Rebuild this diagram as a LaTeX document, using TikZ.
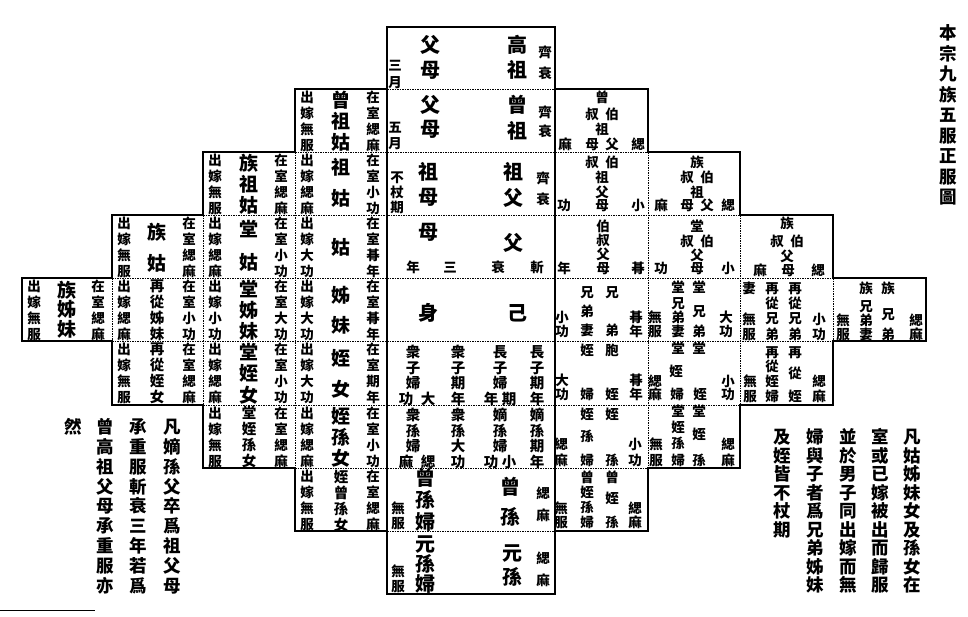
\documentclass[tikz,border=0pt]{standalone}
\usepackage{fontspec}
\newfontfamily\cjk{Noto Sans CJK TC}
\tikzset{
  outl/.style={line width=1.9pt, line join=miter},
  inl/.style={line width=0.75pt, dash pattern=on 1.5pt off 1pt},
  bg/.style={font=\cjk\bfseries\fontsize{20}{20}\selectfont, inner sep=0pt, text height=17.6pt, text depth=2.4pt},
  nm/.style={font=\cjk\bfseries\fontsize{19}{19}\selectfont, inner sep=0pt, text height=16.7pt, text depth=2.3pt},
  md/.style={font=\cjk\bfseries\fontsize{14.5}{14.5}\selectfont, inner sep=0pt, text height=12.8pt, text depth=1.7pt},
  sm/.style={font=\cjk\bfseries\fontsize{13.5}{13.5}\selectfont, inner sep=0pt, text height=11.9pt, text depth=1.6pt},
  nt/.style={font=\cjk\bfseries\fontsize{17.5}{17.5}\selectfont, inner sep=0pt, text height=15.4pt, text depth=2.1pt}
}
% vertical column of characters: x, y of first, spacing, style, list
\newcommand\vcol[5]{\foreach \c [count=\i from 0] in {#5} {\node[#4] at ({#1},{#2+\i*#3}) {\c};}}
\newcommand\ch[3]{\node[sm] at (#1,#2) {#3};}
% left-side cell small columns: L, R, rowtop, right list, left list
\newcommand\lcell[5]{\vcol{#2-14}{#3+8}{16}{sm}{#4}\vcol{#1+12}{#3+8}{16}{sm}{#5}}
\begin{document}
\begin{tikzpicture}[x=1pt,y=-1pt]
\useasboundingbox (0,0) rectangle (968,616);
\fill[white] (0,0) rectangle (968,616);
% inner grid
\draw[inl] (387,89)--(555,89) (295,152)--(648,152) (203,215)--(740,215)
  (112,278)--(833,278) (112,341)--(833,341) (203,405)--(740,405)
  (295,468)--(648,468) (387,531)--(555,531);
\draw[inl] (295,152)--(295,468) (648,152)--(648,468) (203,215)--(203,405)
  (740,215)--(740,405) (112,278)--(112,341) (833,278)--(833,341);
\draw[line width=1.1pt] (387,89)--(387,531) (555,89)--(555,531);
% outline
\draw[outl] (387,27) -- (555,27) -- (555,89) -- (648,89) -- (648,152) -- (740,152)
 -- (740,215) -- (833,215) -- (833,278) -- (926,278) -- (926,341) -- (833,341)
 -- (833,405) -- (740,405) -- (740,468) -- (648,468) -- (648,531) -- (555,531)
 -- (555,594) -- (387,594) -- (387,531) -- (295,531) -- (295,468) -- (203,468)
 -- (203,405) -- (112,405) -- (112,341) -- (22,341) -- (22,278) -- (112,278)
 -- (112,215) -- (203,215) -- (203,152) -- (295,152) -- (295,89) -- (387,89) -- cycle;
\draw[line width=0.8pt] (0,610) -- (95,610);

% ===== central column =====
\vcol{517}{45}{25}{bg}{高,祖}
\vcol{430}{45}{25}{bg}{父,母}
\vcol{545}{52}{21}{sm}{齊,衰}
\vcol{395}{65}{17}{sm}{三,月}
\vcol{517}{105}{26}{bg}{曾,祖}
\vcol{430}{105}{24}{bg}{父,母}
\vcol{545}{112}{19}{sm}{齊,衰}
\vcol{395}{127}{16}{sm}{五,月}
\vcol{513}{172}{26}{bg}{祖,父}
\vcol{428}{172}{25}{bg}{祖,母}
\vcol{543}{178}{21}{sm}{齊,衰}
\vcol{397}{177}{15}{sm}{不,杖,期}
\node[bg] at (513,243) {父};
\node[bg] at (428,232) {母};
\node[sm] at (537,267) {斬};
\node[sm] at (498,267) {衰};
\node[sm] at (450,267) {三};
\node[sm] at (413,267) {年};
\node[bg] at (517,313) {己};
\node[bg] at (428,313) {身};
\vcol{537}{352}{15.5}{md}{長,子,期,年}
\vcol{500}{352}{15.5}{md}{長,子,婦}
\node[md] at (509,398.5) {期}; \node[md] at (491,398.5) {年};
\vcol{458}{352}{15.5}{md}{衆,子,期,年}
\vcol{413}{352}{15.5}{md}{衆,子,婦}
\node[md] at (428,398.5) {大}; \node[md] at (406,398.5) {功};
\vcol{537}{415}{15.5}{md}{嫡,孫,期,年}
\vcol{500}{415}{15.5}{md}{嫡,孫,婦}
\node[md] at (509,461.5) {小}; \node[md] at (491,461.5) {功};
\vcol{458}{415}{15.5}{md}{衆,孫,大,功}
\vcol{413}{415}{15.5}{md}{衆,孫,婦}
\node[md] at (428,461.5) {緦}; \node[md] at (406,461.5) {麻};
\vcol{510}{487}{30}{bg}{曾,孫}
\vcol{425}{478}{22}{bg}{曾,孫,婦}
\vcol{543}{493}{22}{sm}{緦,麻}
\vcol{398}{508}{15}{sm}{無,服}
\vcol{512}{553}{24}{bg}{元,孫}
\vcol{425}{544}{20}{bg}{元,孫,婦}
\vcol{543}{558}{22}{sm}{緦,麻}
\vcol{398}{571}{15}{sm}{無,服}

% ===== left side (female) =====
\lcell{295}{387}{89}{在,室,緦,麻}{出,嫁,無,服}  \vcol{341}{100}{21}{nm}{曾,祖,姑}
\lcell{295}{387}{152}{在,室,小,功}{出,嫁,緦,麻} \vcol{341}{167}{31}{nm}{祖,姑}
\lcell{295}{387}{215}{在,室,朞,年}{出,嫁,大,功} \node[nm] at (341,247) {姑};
\lcell{295}{387}{278}{在,室,朞,年}{出,嫁,大,功} \vcol{341}{295}{30}{nm}{姊,妹}
\lcell{295}{387}{341}{在,室,期,年}{出,嫁,大,功} \vcol{341}{358}{31}{nm}{姪,女}
\lcell{295}{387}{405}{在,室,小,功}{出,嫁,緦,麻} \vcol{341}{416}{21}{nm}{姪,孫,女}
\lcell{295}{387}{468}{在,室,緦,麻}{出,嫁,無,服} \vcol{341}{477}{16}{md}{姪,曾,孫,女}
\lcell{203}{295}{152}{在,室,緦,麻}{出,嫁,無,服} \vcol{249}{163}{21}{nm}{族,祖,姑}
\lcell{203}{295}{215}{在,室,小,功}{出,嫁,緦,麻} \vcol{249}{229}{33}{nm}{堂,姑}
\lcell{203}{295}{278}{在,室,大,功}{出,嫁,小,功} \vcol{249}{289}{21}{nm}{堂,姊,妹}
\lcell{203}{295}{341}{在,室,小,功}{出,嫁,緦,麻} \vcol{249}{352}{21.5}{nm}{堂,姪,女}
\lcell{203}{295}{405}{在,室,緦,麻}{出,嫁,無,服} \vcol{249}{413}{16}{md}{堂,姪,孫,女}
\lcell{112}{203}{215}{在,室,緦,麻}{出,嫁,無,服} \vcol{157}{232}{31}{nm}{族,姑}
\lcell{112}{203}{278}{在,室,小,功}{出,嫁,緦,麻} \vcol{157}{286}{16}{md}{再,從,姊,妹}
\lcell{112}{203}{341}{在,室,緦,麻}{出,嫁,無,服} \vcol{157}{349}{16}{md}{再,從,姪,女}
\lcell{22}{112}{278}{在,室,緦,麻}{出,嫁,無,服}  \vcol{67}{290}{19.5}{nm}{族,姊,妹}

% ===== right side (male) =====
\ch{602}{97}{曾} \ch{592}{114}{叔} \ch{612}{114}{伯} \ch{602}{129}{祖}
\ch{565}{144}{麻} \ch{592}{144}{母} \ch{612}{144}{父} \ch{638}{144}{緦}
\ch{592}{162}{叔} \ch{612}{162}{伯} \ch{602}{177}{祖} \ch{602}{192}{父}
\ch{564}{205}{功} \ch{602}{205}{母} \ch{638}{205}{小}
\vcol{603}{226}{14}{sm}{伯,叔,父,母} \ch{564}{268}{年} \ch{638}{268}{朞}
\ch{697}{162}{族} \ch{687}{177}{叔} \ch{707}{177}{伯} \ch{697}{192}{祖}
\ch{661}{205}{麻} \ch{687}{205}{母} \ch{707}{205}{父} \ch{728}{205}{緦}
\ch{697}{226}{堂} \ch{687}{241}{叔} \ch{707}{241}{伯} \ch{697}{255}{父}
\ch{661}{268}{功} \ch{697}{268}{母} \ch{728}{268}{小}
\ch{787}{223}{族} \ch{777}{241}{叔} \ch{797}{241}{伯} \ch{787}{256}{父}
\ch{760}{270}{麻} \ch{788}{270}{母} \ch{818}{270}{緦}
% row 5
\ch{587}{292}{兄} \ch{612}{292}{兄} \ch{587}{311}{弟} \ch{587}{330}{妻} \ch{612}{330}{弟}
\ch{562}{317}{小} \ch{562}{331}{功} \ch{636}{317}{朞} \ch{636}{331}{年}
\ch{678}{287}{堂} \ch{699}{287}{堂} \ch{678}{303}{兄} \ch{678}{317}{弟} \ch{678}{331}{妻}
\ch{699}{311}{兄} \ch{699}{331}{弟} \ch{655}{317}{無} \ch{655}{331}{服} \ch{726}{317}{大} \ch{726}{331}{功}
\ch{749}{288}{妻} \ch{749}{319}{無} \ch{749}{334}{服}
\vcol{772}{288}{15.3}{sm}{再,從,兄,弟} \vcol{795}{288}{15.3}{sm}{再,從,兄,弟}
\ch{819}{319}{小} \ch{819}{334}{功}
\ch{866}{288}{族} \ch{888}{288}{族} \ch{866}{306}{兄} \ch{866}{320}{弟} \ch{866}{334}{妻}
\ch{888}{314}{兄} \ch{888}{334}{弟} \ch{843}{320}{無} \ch{843}{334}{服} \ch{916}{320}{緦} \ch{916}{334}{麻}
% row 6
\ch{587}{350}{姪} \ch{612}{350}{胞} \ch{587}{394}{婦} \ch{612}{394}{姪}
\ch{562}{380}{大} \ch{562}{394}{功} \ch{636}{380}{朞} \ch{636}{394}{年}
\ch{678}{348}{堂} \ch{699}{348}{堂} \ch{676}{371}{姪} \ch{677}{394}{婦} \ch{700}{394}{姪}
\ch{655}{381}{緦} \ch{655}{394}{麻} \ch{728}{381}{小} \ch{728}{394}{功}
\ch{772}{352}{再} \ch{795}{352}{再} \ch{772}{366}{從} \ch{772}{381}{姪} \ch{772}{396}{婦}
\ch{795}{373}{從} \ch{795}{396}{姪} \ch{750}{381}{無} \ch{750}{396}{服} \ch{819}{381}{緦} \ch{819}{396}{麻}
% row 7
\ch{587}{414}{姪} \ch{612}{414}{姪} \ch{587}{436}{孫} \ch{587}{460}{婦} \ch{612}{460}{孫}
\ch{561}{444}{緦} \ch{561}{460}{麻} \ch{635}{444}{小} \ch{635}{460}{功}
\ch{678}{411}{堂} \ch{699}{411}{堂} \ch{678}{427}{姪} \ch{678}{443}{孫} \ch{678}{460}{婦}
\ch{699}{434}{姪} \ch{699}{460}{孫} \ch{656}{444}{無} \ch{656}{460}{服} \ch{728}{444}{緦} \ch{728}{460}{麻}
% row 8
\ch{587}{477}{曾} \ch{612}{477}{曾} \ch{587}{492}{姪} \ch{587}{507}{孫} \ch{587}{522}{婦}
\ch{612}{498}{姪} \ch{612}{522}{孫} \ch{561}{508}{無} \ch{561}{522}{服} \ch{635}{508}{緦} \ch{635}{522}{麻}

% ===== title and notes =====
\vcol{948}{33}{20.5}{nt}{本,宗,九,族,五,服,正,服,圖}
\vcol{912}{437}{18.5}{nt}{凡,姑,姊,妹,女,及,孫,女,在}
\vcol{880}{437}{18.5}{nt}{室,或,已,嫁,被,出,而,歸,服}
\vcol{848}{437}{18.5}{nt}{並,於,男,子,同,出,嫁,而,無}
\vcol{815}{437}{18.5}{nt}{婦,與,子,者,爲,兄,弟,姊,妹}
\vcol{782}{437}{18.5}{nt}{及,姪,皆,不,杖,期}
\vcol{172}{427}{19.8}{nt}{凡,嫡,孫,父,卒,爲,祖,父,母}
\vcol{138}{427}{19.8}{nt}{承,重,服,斬,衰,三,年,若,爲}
\vcol{105}{427}{19.8}{nt}{曾,高,祖,父,母,承,重,服,亦}
\node[nt] at (73,427) {然};
\end{tikzpicture}
\end{document}
